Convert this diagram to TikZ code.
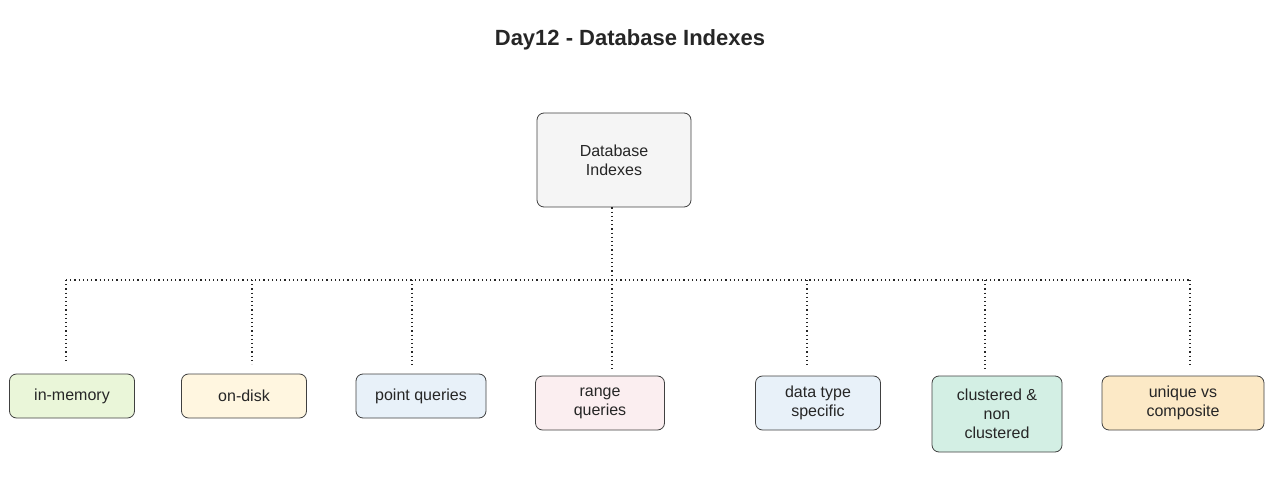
\documentclass[tikz,border=0pt]{standalone}
\usepackage{fontspec}
\setmainfont{Liberation Sans}
\begin{document}
\begin{tikzpicture}[x=1pt,y=-1pt,
  box/.style={draw=black!75,rounded corners=7pt,line width=0.8pt,align=center,font=\fontsize{16}{19}\selectfont,text=black!85,inner sep=0pt},
  link/.style={dash pattern=on 1.2pt off 3pt,line width=1.2pt,black!85}]
\useasboundingbox (0,0) rectangle (1280,486);
\definecolor{cg}{HTML}{EAF6D9}\definecolor{cy}{HTML}{FFF6E0}\definecolor{cb}{HTML}{E8F1F9}
\definecolor{cp}{HTML}{FBEEF0}\definecolor{ct}{HTML}{D3EFE4}\definecolor{co}{HTML}{FCE9C6}
\node (title) at (630,40) {\fontsize{22}{26}\selectfont\bfseries\color{black!85}Day12 - Database Indexes};
\node[box,fill=black!4,minimum width=154pt,minimum height=94pt] (root) at (614,160) {Database\\Indexes};
\node[box,fill=cg,minimum width=125pt,minimum height=44pt] (c1) at (72,396) {in-memory};
\node[box,fill=cy,minimum width=125pt,minimum height=44pt] (c2) at (244,396) {on-disk};
\node[box,fill=cb,minimum width=130pt,minimum height=44pt] (c3) at (421,396) {point queries};
\node[box,fill=cp,minimum width=129pt,minimum height=54pt] (c4) at (600,403) {range\\queries};
\node[box,fill=cb,minimum width=125pt,minimum height=54pt] (c5) at (818,403) {data type\\specific};
\node[box,fill=ct,minimum width=130pt,minimum height=76pt] (c6) at (997,414) {clustered \&\\non\\clustered};
\node[box,fill=co,minimum width=162pt,minimum height=54pt] (c7) at (1183,403) {unique vs\\composite};
\coordinate (h) at (612,280);
\coordinate (hl) at (66,280);
\coordinate (hr) at (1190,280);
\draw[link] (root.south -| h) -- (h);
\draw[link] (hl) -- (hr);
\draw[link] (hl) -- (66,362);
\draw[link] (252,280) -- (252,364);
\draw[link] (412,280) -- (412,368);
\draw[link] (612,280) -- (612,370);
\draw[link] (807,280) -- (807,368);
\draw[link] (985,280) -- (985,370);
\draw[link] (hr) -- (1190,368);
\end{tikzpicture}
\end{document}
